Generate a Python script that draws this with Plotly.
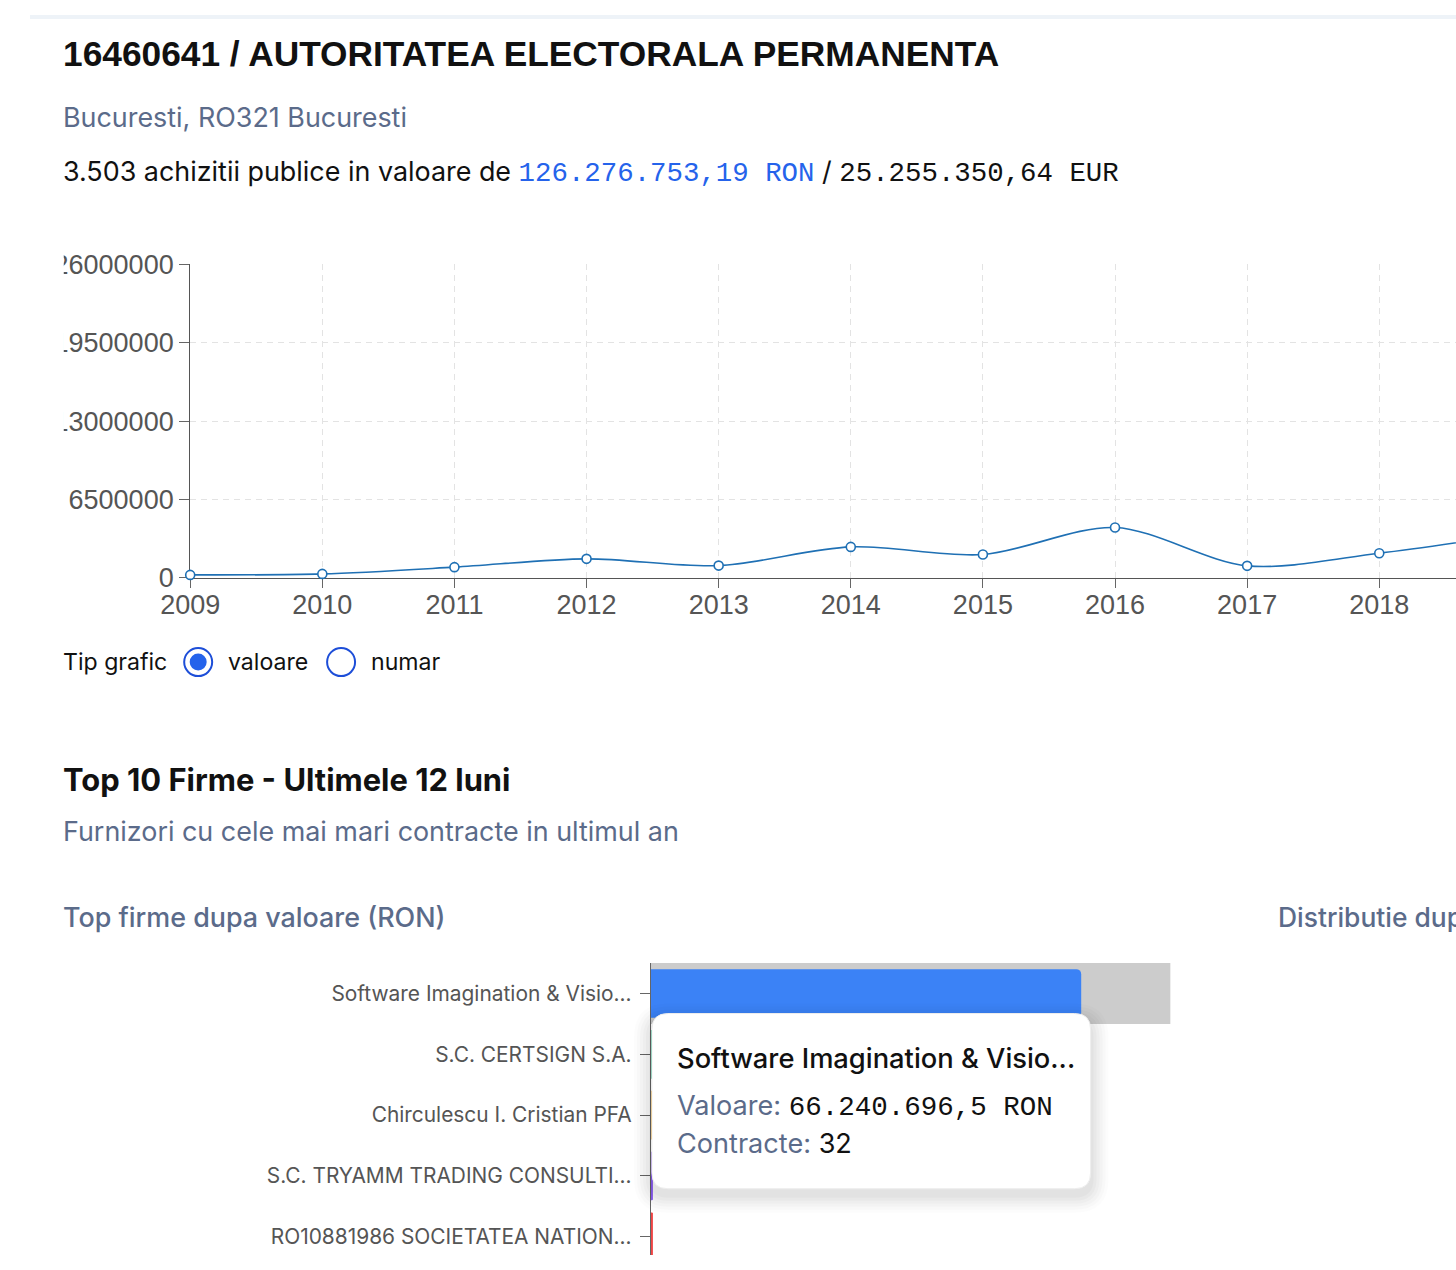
import plotly.graph_objects as go

# ---------------- data ----------------
years = [2009, 2010, 2011, 2012, 2013, 2014, 2015, 2016, 2017, 2018, 2019]
values_ron = [250000, 330000, 890000, 1580000, 1020000, 2570000, 1940000, 4180000, 1000000, 2050000, 3600000]
y_ticks = [0, 6500000, 13000000, 19500000, 26000000]

firms = ["Software Imagination & Visio...", "S.C. CERTSIGN S.A.", "Chirculescu I. Cristian PFA",
         "S.C. TRYAMM TRADING CONSULTI...", "RO10881986 SOCIETATEA NATION..."]
firm_values = [66240696.5, 1800000, 600000, 260000, 230000]
firm_colors = ["#3b82f6", "#10b981", "#f59e0b", "#8b5cf6", "#ef4444"]
tooltip_contracts = 32

n_achizitii = 3503
total_ron = 126276753.19
total_eur = 25255350.64

# ---------------- layout helpers ----------------
W, H = 1456, 1270
SX, SY, OX, OY = 0.98, 0.975, 29.3, 16.3   # page placement compensation


def fx(r):
    return r / SX - OX


def fy(r):
    return r / SY - OY


def X(r):
    return fx(r) / W


def Y(r):
    return 1 - fy(r) / H


OUT_RIGHT = SX * (W + OX)
OUT_BOTTOM = SY * (H + OY)


def ro(v, maxdec=3):
    s = f"{v:,.{maxdec}f}"
    if "." in s:
        s = s.rstrip("0").rstrip(".")
    return s.replace(",", "#").replace(".", ",").replace("#", ".")


def rrect(x0, y0, x1, y1, r):
    return (f"M {X(x0 + r)},{Y(y0)} L {X(x1 - r)},{Y(y0)} Q {X(x1)},{Y(y0)} {X(x1)},{Y(y0 + r)} "
            f"L {X(x1)},{Y(y1 - r)} Q {X(x1)},{Y(y1)} {X(x1 - r)},{Y(y1)} "
            f"L {X(x0 + r)},{Y(y1)} Q {X(x0)},{Y(y1)} {X(x0)},{Y(y1 - r)} "
            f"L {X(x0)},{Y(y0 + r)} Q {X(x0)},{Y(y0)} {X(x0 + r)},{Y(y0)} Z")


SLATE = "#5b6b8a"
INTER = "Inter, Roboto, sans-serif"
MONO = "Liberation Mono, DejaVu Sans Mono, monospace"
LINE_BLUE = "#1f70b4"

fig = go.Figure()

# ---------------- line chart ----------------
fig.add_trace(go.Scatter(
    x=years, y=values_ron, mode="lines+markers",
    line=dict(color=LINE_BLUE, width=1.6, shape="spline", smoothing=0.9),
    marker=dict(size=9, color="white", line=dict(color=LINE_BLUE, width=1.6)),
    cliponaxis=False, hoverinfo="skip", xaxis="x", yaxis="y", showlegend=False,
))

# ---------------- bar chart ----------------
fig.add_trace(go.Bar(
    x=firm_values, y=firms, orientation="h",
    marker=dict(color=firm_colors, cornerradius=5, line=dict(width=0)),
    xaxis="x2", yaxis="y2", hoverinfo="skip", showlegend=False,
))

shapes = []
# top faint band
shapes.append(dict(type="rect", xref="paper", yref="paper", x0=0, x1=1, y0=1 - 4 / H, y1=1,
                   fillcolor="#eef3f8", line=dict(width=0), layer="below"))
# hover cursor band on first bar
shapes.append(dict(type="rect", xref="x2", yref="y2", x0=0, x1=80000000, y0=-0.5, y1=0.5,
                   fillcolor="#cccccc", line=dict(width=0), layer="below"))
# clip of y labels at left page edge
shapes.append(dict(type="rect", xref="paper", yref="paper", x0=0, x1=X(62.5), y0=Y(445), y1=Y(250),
                   fillcolor="white", line=dict(width=0), layer="above"))
# radio buttons
shapes.append(dict(type="circle", xref="paper", yref="paper", x0=X(183), x1=X(211), y0=Y(676), y1=Y(648),
                   fillcolor="white", line=dict(color="#1d4ed8", width=2), layer="above"))
shapes.append(dict(type="circle", xref="paper", yref="paper", x0=X(188.5), x1=X(205.5), y0=Y(670.5), y1=Y(653.5),
                   fillcolor="#2563eb", line=dict(width=0), layer="above"))
shapes.append(dict(type="circle", xref="paper", yref="paper", x0=X(326), x1=X(354), y0=Y(676), y1=Y(648),
                   fillcolor="white", line=dict(color="#1d4ed8", width=2), layer="above"))
# tooltip shadow + box
for i, op in enumerate([0.012, 0.015, 0.018, 0.02, 0.022, 0.025]):
    g = 18 - 3 * i
    shapes.append(dict(type="path", xref="paper", yref="paper",
                       path=rrect(651 - g, 1013 - g + 8, 1090 + g, 1188 + g + 6, 16 + g),
                       fillcolor=f"rgba(0,0,0,{op})", line=dict(width=0), layer="above"))
shapes.append(dict(type="path", xref="paper", yref="paper", path=rrect(651, 1013, 1090, 1188, 16),
                   fillcolor="white", line=dict(color="#ededed", width=1), layer="above"))

annotations = []
TX = -3  # annotation text bearing correction


def txt(x, y, text, size, color="#111111", family=INTER, weight="normal"):
    annotations.append(dict(xref="paper", yref="paper", x=X(x + TX), y=Y(y), text=text, showarrow=False,
                            xanchor="left", yanchor="middle", align="left",
                            font=dict(size=size, color=color, family=family, weight=weight)))


txt(63, 54, "<b>16460641 / AUTORITATEA ELECTORALA PERMANENTA</b>", 35.3, "#111111",
    "Liberation Sans, Arial, sans-serif")
txt(63, 118, "Bucuresti, RO321 Bucuresti", 26.9, SLATE)
txt(63, 173,
    f"{ro(n_achizitii)} achizitii publice in valoare de "
    f"<span style='font-family:{MONO};color:#2563eb;font-size:27.4px'>{ro(total_ron)} RON</span>"
    f" / <span style='font-family:{MONO};font-size:27.4px'>{ro(total_eur)} EUR</span>",
    26.9, "#111111")
txt(63, 662, "Tip grafic", 23.1)
txt(228, 662, "valoare", 23.1)
txt(371, 662, "numar", 23.1)
txt(63, 779, "<b>Top 10 Firme - Ultimele 12 luni</b>", 30.9)
txt(63, 831, "Furnizori cu cele mai mari contracte in ultimul an", 26.9, SLATE)
txt(63, 917, "Top firme dupa valoare (RON)", 26.9, SLATE, weight=500)
txt(1278, 917, "Distributie dup", 26.4, SLATE, weight=500)
# tooltip text
txt(677, 1058, firms[0], 27.3, "#111111", weight=500)
txt(677, 1105,
    f"<span style='color:{SLATE}'>Valoare: </span>"
    f"<span style='font-family:{MONO};font-size:27.5px'>{ro(firm_values[0])} RON</span>",
    27.1, "#111111")
txt(677, 1143, f"<span style='color:{SLATE}'>Contracte: </span>{tooltip_contracts}", 27.1, "#111111")

tickfont = dict(family="Liberation Sans, Arial, sans-serif", size=27, color="#555555")

fig.update_layout(
    width=W, height=H, autosize=False,
    margin=dict(l=0, r=0, t=0, b=0, pad=0),
    paper_bgcolor="white", plot_bgcolor="white",
    shapes=shapes, annotations=annotations,
    bargap=0.2,
    xaxis=dict(domain=[X(189), 1], range=[2009, 2009 + (OUT_RIGHT - 189) / 132.2],
               tickvals=years, ticktext=[str(y) for y in years],
               showgrid=True, gridcolor="#e3e3e3", griddash="6px,5px", gridwidth=1,
               showline=True, linecolor="#555555", linewidth=1.2,
               ticks="outside", ticklen=9, tickcolor="#666666", tickwidth=1.2,
               ticklabelstandoff=-6,
               tickfont=tickfont, zeroline=False, layer="below traces", fixedrange=True),
    yaxis=dict(domain=[Y(578), Y(265)], range=[0, 26000000],
               tickvals=y_ticks, ticktext=[str(v) for v in y_ticks],
               showgrid=True, gridcolor="#e3e3e3", griddash="6px,5px", gridwidth=1,
               showline=True, linecolor="#555555", linewidth=1.2,
               ticks="outside", ticklen=10, tickcolor="#666666", tickwidth=1.2,
               tickfont=tickfont, zeroline=False, layer="below traces", fixedrange=True),
    xaxis2=dict(domain=[X(650), X(1170)], range=[0, 80000000], visible=False, anchor="y2",
                fixedrange=True),
    yaxis2=dict(domain=[0, Y(962.6)], range=[(OUT_BOTTOM - 993) / 60.75, -0.5], anchor="x2",
                categoryorder="array", categoryarray=firms,
                showgrid=False, showline=True, linecolor="#666666", linewidth=1.2,
                ticks="outside", ticklen=10, tickcolor="#666666", tickwidth=1.2,
                ticklabelstandoff=4,
                tickfont=dict(family=INTER, size=20.9, color="#555555"), zeroline=False,
                fixedrange=True),
)

fig.write_html("out.html", config={"displayModeBar": False},
               post_script="document.body.style.margin='0';document.body.style.overflow='hidden';")
